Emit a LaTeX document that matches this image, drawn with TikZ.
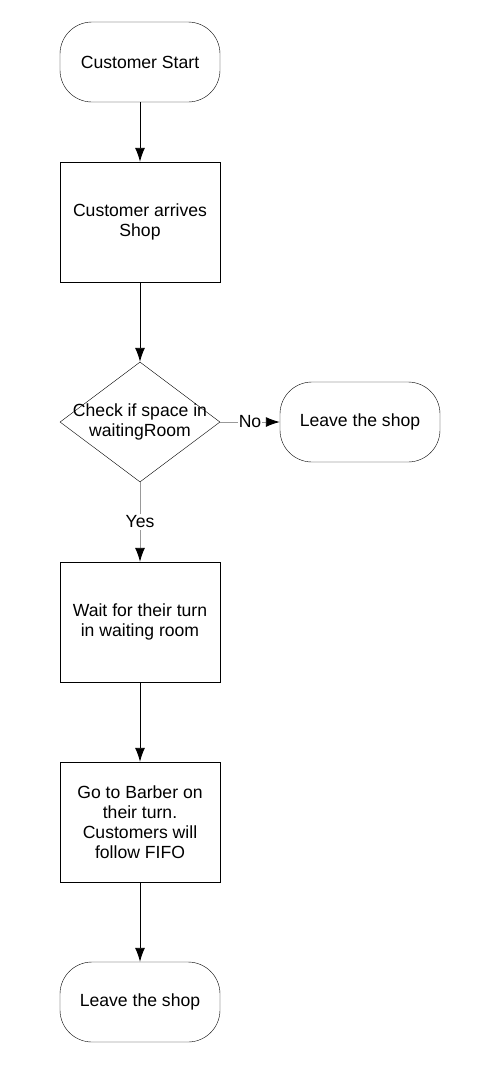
\documentclass[tikz,border=0pt]{standalone}
\usepackage{fontspec}
\setmainfont{Liberation Sans}
\usetikzlibrary{shapes.geometric,arrows.meta}
\begin{document}
\begin{tikzpicture}[x=1pt,y=-1pt,
		every node/.style={font=\fontsize{17.6}{20}\selectfont, align=center},
		terminal/.style={draw, rounded corners=32pt, minimum width=160pt, minimum height=80pt},
		procbox/.style={draw, minimum width=160pt, minimum height=120pt},
		decision/.style={draw, diamond, aspect=1.3333, minimum width=160pt, minimum height=120pt, inner sep=-20pt},
		flow/.style={line width=0.9pt, -{Latex[length=14pt,width=10pt]}},
		branch/.style={line width=0.9pt, gray!80, -{Latex[length=14pt,width=10pt,black]}}]
		\useasboundingbox (0,0) rectangle (480,1072);
		\node[terminal] (start) at (140,62) {Customer Start};
		\node[procbox] (arrive) at (140,222) {Customer arrives\\Shop};
		\node[decision] (check) at (140,422) {Check if space in\\waitingRoom};
		\node[terminal] (leavefull) at (360,422) {Leave the shop};
		\node[procbox] (wait) at (140,622) {Wait for their turn\\in waiting room};
		\node[procbox] (barber) at (140,822) {Go to Barber on\\their turn.\\Customers will\\follow FIFO};
		\node[terminal] (leave) at (140,1002) {Leave the shop};
		\draw [flow] (start) -- (arrive);
		\draw [flow] (arrive) -- (check);
		\draw [branch] (check) -- (leavefull) node[midway, fill=white, text=black, inner sep=1pt] {No};
		\draw [branch] (check) -- (wait) node[midway, fill=white, text=black, inner sep=2pt] {Yes};
		\draw [flow] (wait) -- (barber);
		\draw [flow] (barber) -- (leave);
	\end{tikzpicture}
\end{document}
